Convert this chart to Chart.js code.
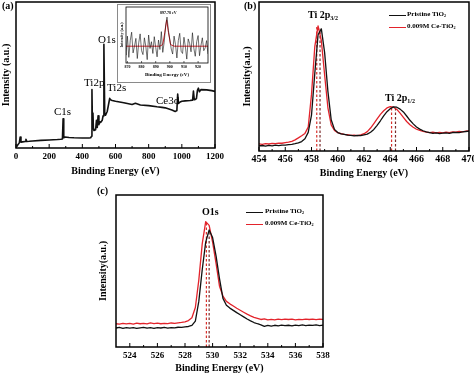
<!DOCTYPE html>
<html>
<head>
<meta charset="utf-8">
<script src="https://cdn.jsdelivr.net/npm/chart.js@4.4.0/dist/chart.umd.min.js"></script>
<style>
  html, body { margin: 0; padding: 0; background: #fff; }
  body { width: 474px; height: 375px; position: relative; overflow: hidden;
         font-family: "Liberation Serif", "Times New Roman", serif; color: #000; }
  .pane { position: absolute; }
  .lbl { position: absolute; white-space: nowrap; line-height: 1; }
  .b { font-weight: bold; }
  .lbl sub { font-size: 0.6em; vertical-align: -0.25em; }
  .key { position: absolute; height: 0; border-top: 1.6px solid #111; }
  .key.red { border-top-color: #e3232b; }
  #insetBox { position: absolute; left: 117px; top: 4px; width: 92px; height: 77px;
              border: 1px solid #8a8a8a; background: #fff; }
</style>
</head>
<body>

<canvas id="chartA" class="pane" style="left:0;top:0" width="237" height="185"></canvas>
<canvas id="chartB" class="pane" style="left:237px;top:0" width="250" height="185"></canvas>
<canvas id="chartC" class="pane" style="left:90px;top:185px" width="284" height="190"></canvas>
<div id="insetBox"></div>
<canvas id="chartInset" class="pane" style="left:117px;top:4px" width="93" height="78"></canvas>

<!-- panel letters -->
<div class="lbl b" style="left:2px;top:1px;font-size:10px">(a)</div>
<div class="lbl b" style="left:244px;top:1px;font-size:10px">(b)</div>
<div class="lbl b" style="left:97px;top:186px;font-size:10px">(c)</div>

<!-- (a) peak labels -->
<div class="lbl" style="left:54px;top:106px;font-size:11px">C1s</div>
<div class="lbl" style="left:84px;top:77px;font-size:11px">Ti2p</div>
<div class="lbl" style="left:98px;top:34px;font-size:11px">O1s</div>
<div class="lbl" style="left:107px;top:82px;font-size:11px">Ti2s</div>
<div class="lbl" style="left:156px;top:95px;font-size:11px">Ce3d</div>
<div class="lbl b" style="left:160px;top:11px;font-size:4px">897.78 eV</div>

<!-- (b) labels + legend -->
<div class="lbl b" style="left:308px;top:10px;font-size:10px">Ti 2p<sub>3/2</sub></div>
<div class="lbl b" style="left:385px;top:93px;font-size:10px">Ti 2p<sub>1/2</sub></div>
<div class="key" style="left:389px;top:15px;width:17px"></div>
<div class="lbl b" style="left:407px;top:11px;font-size:7px">Pristine TiO<sub>2</sub></div>
<div class="key red" style="left:389px;top:27px;width:17px"></div>
<div class="lbl b" style="left:407px;top:23px;font-size:7px">0.009M Ce-TiO<sub>2</sub></div>

<!-- (c) labels + legend -->
<div class="lbl b" style="left:202px;top:207px;font-size:10px">O1s</div>
<div class="key" style="left:246px;top:212px;width:17px"></div>
<div class="lbl b" style="left:265px;top:208px;font-size:7px">Pristine TiO<sub>2</sub></div>
<div class="key red" style="left:246px;top:224px;width:17px"></div>
<div class="lbl b" style="left:265px;top:220px;font-size:7px">0.009M Ce-TiO<sub>2</sub></div>

<script>
// ─── DATA ────────────────────────────────────────────
// (a) survey spectrum
const surveyEnergy = [5, 10, 20, 25, 30, 40, 55, 60, 65, 80, 100, 150, 200, 250, 270, 280, 284, 288, 295,
  320, 350, 400, 440, 450, 455, 458, 461, 464, 467, 470, 480, 485, 490, 495, 500, 505, 510, 520, 525,
  530, 535, 540, 550, 560, 565, 570, 580, 600, 650, 700, 720, 750, 800, 850, 880, 900, 940, 960, 970,
  975, 980, 990, 1000, 1020, 1050, 1065, 1070, 1075, 1080, 1088, 1094, 1100, 1106, 1115, 1150, 1180, 1200];
const surveyIntensity = [1, 2, 3.5, 7.5, 4, 4.2, 4.5, 6, 4.5, 4.6, 4.8, 5.2, 5.5, 5.8, 6, 6.2, 20, 7, 7.5,
  7.2, 7, 6.8, 6.8, 7, 8, 40, 15, 24, 13, 12, 12.5, 19, 14, 22, 16, 18, 17.5, 19, 22,
  71, 24, 22.5, 25, 31, 34, 33, 32.5, 32, 31, 29.8, 30.6, 29.5, 29, 28.2, 27.8, 27.5, 26, 25, 25.6,
  37, 30.5, 31.5, 32, 32.3, 32.5, 32.8, 39, 33, 33.2, 33.8, 39.5, 41, 38.5, 40, 39.8, 39.3, 38.8];
const surveyTicks = [0, 200, 400, 600, 800, 1000, 1200];
const surveyMinor = [100, 300, 500, 700, 900, 1100];

// (a) inset: Ce3d window
const insetEnergy = [868, 869, 870, 871, 872, 873, 874, 875, 876, 877, 878, 879, 880, 881, 882, 883, 884,
  885, 886, 887, 888, 889, 890, 891, 892, 893, 894, 895, 896, 897, 898, 899, 900, 901, 902, 903, 904,
  905, 906, 907, 908, 909, 910, 911, 912, 913, 914, 915, 916, 917, 918, 919, 920, 921, 922, 923, 924,
  925, 926, 927];
const insetCounts = [32, 14, 48, 10, 40, 55, 18, 30, 44, 8, 36, 52, 22, 15, 45, 30, 6, 50, 26, 38,
  17, 47, 28, 11, 41, 24, 56, 19, 37, 66, 82, 58, 42, 25, 16, 48, 33, 9, 40, 53,
  21, 17, 46, 29, 7, 43, 35, 20, 54, 26, 12, 38, 49, 13, 31, 45, 22, 27, 40, 16];
const insetFitEnergy = [868, 893, 895, 896.5, 897.78, 899, 900.5, 903, 927];
const insetFitCounts = [30, 30, 33, 55, 77, 55, 33, 30, 30];
const insetTicks = [870, 880, 890, 900, 910, 920];

// (b) Ti 2p
const energyB = [454, 454.25, 454.5, 454.75, 455, 455.25, 455.5, 455.75, 456, 456.25, 456.5, 456.75,
  457, 457.25, 457.5, 457.75, 458, 458.25, 458.5, 458.75, 459, 459.25, 459.5, 459.75,
  460, 460.25, 460.5, 460.75, 461, 461.25, 461.5, 461.75, 462, 462.25, 462.5, 462.75,
  463, 463.25, 463.5, 463.75, 464, 464.25, 464.5, 464.75, 465, 465.25, 465.5, 465.75,
  466, 466.25, 466.5, 466.75, 467, 467.25, 467.5, 467.75, 468, 468.25, 468.5, 468.75,
  469, 469.25, 469.5, 469.75, 470];
const pristineB = [3.4, 3.7, 3.3, 3.8, 3.5, 3.9, 3.6, 4.0, 3.9, 4.3, 4.5, 4.9,
  5.4, 6.3, 8.2, 12.5, 24, 52, 78, 82, 66, 40, 21, 14.5,
  12.4, 11.5, 11.2, 10.6, 10.5, 10.1, 10.4, 10.3, 10.8, 11.3, 12.6, 14.5,
  17.2, 20.3, 23.6, 26.4, 28.4, 29.6, 29.4, 28.1, 26.2, 23.5, 20.6, 18.2,
  16.1, 14.7, 13.6, 12.8, 12.3, 11.8, 12.1, 11.6, 12.0, 12.2, 11.8, 12.4,
  12.5, 12.3, 12.9, 13.1, 13.4];
const ceB = [4.8, 4.5, 5.0, 4.7, 5.1, 4.9, 5.3, 5.2, 5.6, 5.9, 6.5, 7.5,
  8.8, 10.2, 11.8, 16, 38, 70, 84, 74, 51, 29, 17.5, 13.8,
  12.3, 11.7, 11.1, 10.9, 10.5, 10.6, 10.3, 10.8, 11.6, 13.0, 15.4, 18.4,
  21.5, 24.6, 27.0, 28.9, 29.8, 29.4, 27.9, 25.4, 22.6, 19.8, 17.6, 15.9,
  14.6, 13.8, 13.1, 12.7, 12.4, 12.6, 12.2, 12.5, 12.1, 12.6, 12.3, 12.8,
  12.6, 13.1, 12.9, 13.3, 13.5];
const ticksB = [454, 456, 458, 460, 462, 464, 466, 468, 470];
const minorB = [455, 457, 459, 461, 463, 465, 467, 469];
const peakLineB = [458.4, 458.65, 464.1, 464.4];
const peakTopB = [84, 82, 29.8, 29.6];

// (c) O 1s
const energyC = [523, 523.25, 523.5, 523.75, 524, 524.25, 524.5, 524.75, 525, 525.25, 525.5, 525.75,
  526, 526.25, 526.5, 526.75, 527, 527.25, 527.5, 527.75, 528, 528.25, 528.5, 528.75,
  529, 529.25, 529.5, 529.75, 530, 530.25, 530.5, 530.75, 531, 531.25, 531.5, 531.75,
  532, 532.25, 532.5, 532.75, 533, 533.25, 533.5, 533.75, 534, 534.25, 534.5, 534.75,
  535, 535.25, 535.5, 535.75, 536, 536.25, 536.5, 536.75, 537, 537.25, 537.5, 537.75, 538];
const pristineC = [12.5, 12.9, 12.3, 12.7, 12.4, 12.8, 12.2, 12.6, 12.9, 12.4, 12.7, 12.3,
  12.8, 12.5, 12.9, 12.4, 12.8, 12.6, 13.0, 12.9, 13.3, 13.5, 14.2, 17,
  30, 51, 69, 77, 72, 60, 45, 32, 27.5, 25.6, 24.1, 22.6,
  21.2, 19.8, 18.4, 17.2, 16.1, 15.3, 14.6, 13.6, 14.2, 13.8, 14.3, 13.9,
  14.4, 14.0, 14.3, 13.9, 14.4, 14.1, 14.5, 14.0, 14.4, 14.2, 14.5, 14.1, 14.4];
const ceC = [15.3, 15.0, 15.6, 15.2, 15.5, 15.1, 15.7, 15.3, 15.6, 15.2, 15.8, 15.4,
  15.7, 15.3, 15.6, 15.4, 15.8, 15.5, 15.9, 16.2, 16.6, 17.4, 19.2, 26,
  44, 68, 82.5, 80, 69, 55, 40, 33.5, 30, 28.4, 27, 25.5,
  24.2, 22.9, 21.6, 20.5, 19.5, 18.8, 18.1, 18.5, 17.8, 18.2, 17.9, 18.3,
  18.0, 18.4, 18.1, 18.3, 17.9, 18.2, 18.0, 18.4, 18.1, 18.3, 18.0, 18.3, 18.2];
const ticksC = [524, 526, 528, 530, 532, 534, 536, 538];
const minorC = [525, 527, 529, 531, 533, 535, 537];
const peakLineC = [529.55, 529.75];
const peakTopC = [82.5, 77];

// ─── STYLE ───────────────────────────────────────────
const BLACK = '#111111';
const RED = '#e3232b';
const DASH_RED = '#d8302c';
const DASH_DARK = '#7a2a2a';

Chart.defaults.font.family = '"Liberation Serif", "Times New Roman", serif';
Chart.defaults.color = '#000';
Chart.defaults.animation = false;

// box round the plot + inward ticks on the energy axis
const framePlugin = {
  id: 'frame',
  afterDatasetsDraw(chart, args, o) {
    const a = chart.chartArea, x = chart.scales.x, ctx = chart.ctx;
    ctx.save();
    ctx.strokeStyle = '#000';
    ctx.lineWidth = o.lw;
    ctx.strokeRect(a.left, a.top, a.right - a.left, a.bottom - a.top);
    ctx.lineWidth = o.tw;
    ctx.beginPath();
    x.ticks.forEach(t => {
      const p = x.getPixelForValue(t.value);
      ctx.moveTo(p, a.bottom); ctx.lineTo(p, a.bottom - o.major);
    });
    (o.minor || []).forEach(v => {
      const p = x.getPixelForValue(v);
      ctx.moveTo(p, a.bottom); ctx.lineTo(p, a.bottom - o.minorLen);
    });
    ctx.stroke();
    ctx.restore();
  }
};

function xy(xs, ys) { return xs.map((v, i) => ({ x: v, y: ys[i] })); }

function line(data, color, width) {
  return { data, borderColor: color, borderWidth: width, pointRadius: 0, tension: 0, fill: false,
           borderJoinStyle: 'round' };
}

function dashLines(energies, tops) {
  return energies.map((e, i) => ({
    data: [{ x: e, y: 0 }, { x: e, y: tops[i] }],
    borderColor: i % 2 === 0 ? DASH_RED : DASH_DARK,
    borderWidth: 1.2, borderDash: [2.5, 2], pointRadius: 0
  }));
}

function xAxis(min, max, ticks, s) {
  return {
    type: 'linear', min, max,
    afterBuildTicks: sc => { sc.ticks = ticks.map(v => ({ value: v })); },
    afterFit: sc => { sc.height = s.height; },
    grid: { display: false, drawTicks: false },
    border: { display: false },
    ticks: { font: { size: s.tick, weight: 'bold' }, padding: s.tickPad, maxRotation: 0, autoSkip: false,
             callback: v => String(v) },
    title: { display: true, text: 'Binding Energy (eV)', font: { size: s.title, weight: 'bold' },
             padding: { top: 0, bottom: s.titlePad } }
  };
}

function yAxis(text, s) {
  return {
    type: 'linear', min: 0, max: 100,
    afterFit: sc => { sc.width = s.width; },
    grid: { display: false, drawTicks: false },
    border: { display: false },
    ticks: { display: false },
    title: { display: true, text, font: { size: s.title, weight: 'bold' }, padding: { top: s.pad, bottom: 0 } }
  };
}

function makeChart(id, datasets, scales, padding, frame) {
  return new Chart(document.getElementById(id), {
    type: 'line',
    data: { datasets },
    options: {
      responsive: false,
      parsing: false,
      layout: { padding },
      plugins: { legend: { display: false }, tooltip: { enabled: false }, frame },
      scales
    },
    plugins: [framePlugin]
  });
}

// ─── (a) SURVEY ──────────────────────────────────────
makeChart('chartA',
  [line(xy(surveyEnergy, surveyIntensity), BLACK, 1.6)],
  {
    x: xAxis(0, 1200, surveyTicks, { height: 37, tick: 9, tickPad: 3, title: 10, titlePad: 8 }),
    y: yAxis('Intensity (a.u.)', { width: 16, title: 10, pad: 0 })
  },
  { left: 0, right: 22, top: 2, bottom: 0 },
  { lw: 1.5, tw: 1, major: 4, minor: surveyMinor, minorLen: 2 });

// ─── (a) INSET ───────────────────────────────────────
makeChart('chartInset',
  [line(xy(insetEnergy, insetCounts), BLACK, 0.6), line(xy(insetFitEnergy, insetFitCounts), RED, 1)],
  {
    x: xAxis(869, 927, insetTicks, { height: 19, tick: 4, tickPad: 2, title: 5, titlePad: 4 }),
    y: yAxis('Intensity (a.u.)', { width: 9, title: 4, pad: 3 })
  },
  { left: 0, right: 2, top: 3, bottom: 0 },
  { lw: 0.8, tw: 0.6, major: 2, minor: [], minorLen: 0 });

// ─── (b) Ti 2p ───────────────────────────────────────
makeChart('chartB',
  [line(xy(energyB, pristineB), BLACK, 1.3), line(xy(energyB, ceB), RED, 1.3)]
    .concat(dashLines(peakLineB, peakTopB)),
  {
    x: xAxis(454, 470, ticksB, { height: 34, tick: 10, tickPad: 2, title: 10, titlePad: 6 }),
    y: yAxis('Intensity(a.u.)', { width: 22, title: 10, pad: 4 })
  },
  { left: 0, right: 18, top: 2, bottom: 0 },
  { lw: 1.5, tw: 1, major: 4, minor: minorB, minorLen: 2 });

// ─── (c) O 1s ────────────────────────────────────────
makeChart('chartC',
  [line(xy(energyC, pristineC), BLACK, 1.3), line(xy(energyC, ceC), RED, 1.3)]
    .concat(dashLines(peakLineC, peakTopC)),
  {
    x: xAxis(523, 538, ticksC, { height: 28, tick: 9, tickPad: 3, title: 10, titlePad: 1 }),
    y: yAxis('Intensity(a.u.)', { width: 26, title: 10, pad: 7 })
  },
  { left: 0, right: 51, top: 10, bottom: 0 },
  { lw: 1.5, tw: 1, major: 4, minor: minorC, minorLen: 2 });
</script>
</body>
</html>
